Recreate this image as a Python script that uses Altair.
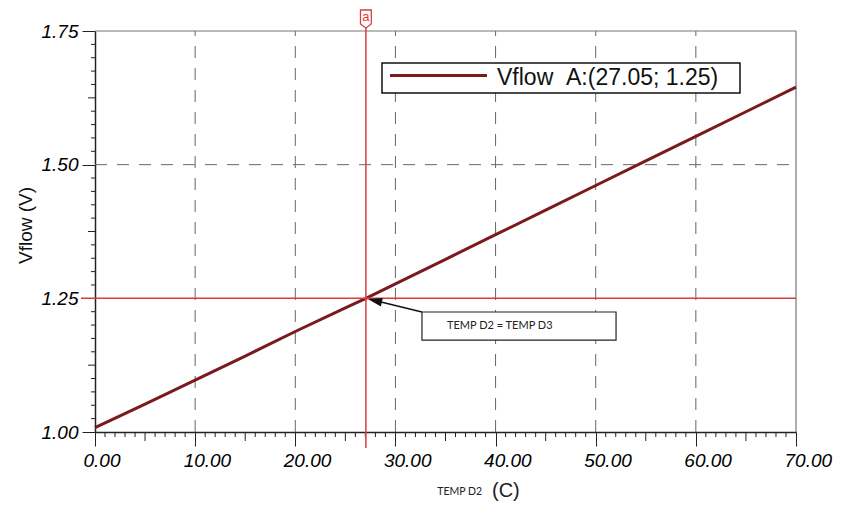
import altair as alt
import pandas as pd

# values
temp = [0, 5, 10, 15, 20, 25, 27.05, 30, 35, 40, 45, 50, 55, 60, 65, 70]
vflow = [1.008, 1.052, 1.097, 1.142, 1.188, 1.232, 1.25, 1.277, 1.323,
         1.369, 1.415, 1.461, 1.507, 1.553, 1.599, 1.645]

x_ticks = [0, 10, 20, 30, 40, 50, 60, 70]
y_ticks = [1.00, 1.25, 1.50, 1.75]
x_grid = [10, 20, 30, 40, 50, 60]
y_grid = [1.50]
x_mid = [5, 15, 25, 35, 45, 55, 65]
x_minor = [v for v in range(0, 71) if v % 5 != 0]
y_mid = [1.125, 1.375, 1.625]
y_minor = [round(1.0 + 0.025 * i, 3) for i in range(31) if i % 5 != 0]

cursor_x = 27.05
cursor_y = 1.25
series_label = "Vflow\u00a0\u00a0A:(27.05; 1.25)"
note_text = "TEMP D2 = TEMP D3"

# annotation box / arrow anchors (data coords)
note_x0, note_x1 = 32.65, 52.03
note_y0, note_y1 = 1.172, 1.2244
note_tx, note_ty = 35.15, 1.198
arrow_x, arrow_y = 27.94, 1.2458

LINE = "#7b1a1e"
RED = "#dc3c40"
GRID = "#666666"
AXIS = "#222222"
W, H = 701, 401

xs = alt.Scale(domain=[0, 70], nice=False, zero=False)
ys = alt.Scale(domain=[1.0, 1.75], nice=False, zero=False)

x_axis = alt.Axis(
    values=x_ticks, format=".2f", title=None, grid=False,
    tickSize=14, labelPadding=5, labelAlign="left", labelOffset=-12,
)
y_axis = alt.Axis(
    values=y_ticks, format=".2f", title="Vflow (V)", grid=False,
    tickSize=13, labelPadding=4,
    titleX=-70, titleY=194, titleAngle=270, titleAlign="center",
    titleBaseline="middle",
)


def X(field="t"):
    return alt.X(f"{field}:Q", scale=xs, axis=x_axis)


def Y(field="v"):
    return alt.Y(f"{field}:Q", scale=ys, axis=y_axis)


vgrid = alt.Chart(pd.DataFrame({"t": x_grid})).mark_rule(
    color=GRID, strokeDash=[12, 10], strokeWidth=1
).encode(x=X(), y=alt.value(H), y2=alt.value(0))

hgrid = alt.Chart(pd.DataFrame({"v": y_grid})).mark_rule(
    color=GRID, strokeDash=[12, 10], strokeWidth=1
).encode(y=Y(), x=alt.value(0), x2=alt.value(W))

top_border = alt.Chart(pd.DataFrame({"v": [1.75]})).mark_rule(
    color="#777777", strokeWidth=1.2
).encode(y=Y(), x=alt.value(0), x2=alt.value(W))

right_border = alt.Chart(pd.DataFrame({"t": [70]})).mark_rule(
    color="#777777", strokeWidth=1.2
).encode(x=X(), y=alt.value(0), y2=alt.value(H))

x_mid_ticks = alt.Chart(pd.DataFrame({"t": x_mid})).mark_rule(
    color=AXIS, strokeWidth=1
).encode(x=X(), y=alt.value(H), y2=alt.value(H + 9))

x_minor_ticks = alt.Chart(pd.DataFrame({"t": x_minor})).mark_rule(
    color=AXIS, strokeWidth=1
).encode(x=X(), y=alt.value(H), y2=alt.value(H + 5))

y_mid_ticks = alt.Chart(pd.DataFrame({"v": y_mid})).mark_rule(
    color=AXIS, strokeWidth=1
).encode(y=Y(), x=alt.value(-7), x2=alt.value(0))

y_minor_ticks = alt.Chart(pd.DataFrame({"v": y_minor})).mark_rule(
    color=AXIS, strokeWidth=1
).encode(y=Y(), x=alt.value(-4), x2=alt.value(0))

line = alt.Chart(pd.DataFrame({"t": temp, "v": vflow})).mark_line(
    strokeWidth=3, color=LINE
).encode(x=X(), y=Y())

cursor_v = alt.Chart(pd.DataFrame({"t": [cursor_x]})).mark_rule(
    color=RED, strokeWidth=1.5
).encode(x=X(), y=alt.value(-3), y2=alt.value(H + 16))

cursor_h = alt.Chart(pd.DataFrame({"v": [cursor_y]})).mark_rule(
    color=RED, strokeWidth=1.5
).encode(y=Y(), x=alt.value(-14), x2=alt.value(W))

flag = alt.Chart(pd.DataFrame({"t": [cursor_x]})).mark_point(
    shape="M -0.6 -1 L 0.6 -1 L 0.6 0.55 L 0 1 L -0.6 0.55 Z",
    size=324, filled=True, fill="white", stroke=RED, strokeWidth=1.3, opacity=1,
).encode(x=X(), y=alt.value(-12))

flag_text = alt.Chart(pd.DataFrame({"t": [cursor_x], "lab": ["a"]})).mark_text(
    color=RED, fontSize=13, font="Liberation Sans", baseline="middle"
).encode(x=X(), y=alt.value(-14), text="lab:N")

# legend box drawn by hand, as in the simulator's plot
legend_box = alt.Chart(pd.DataFrame({"lab": [series_label]})).mark_rect(
    fill="white", stroke="#111111", strokeWidth=1.5
).encode(x=alt.value(287), x2=alt.value(645), y=alt.value(32), y2=alt.value(62))

legend_swatch = alt.Chart(pd.DataFrame({"lab": [series_label]})).mark_rule(
    color=LINE, strokeWidth=3
).encode(x=alt.value(295), x2=alt.value(392), y=alt.value(44.5))

legend_label = alt.Chart(pd.DataFrame({"lab": [series_label]})).mark_text(
    align="left", baseline="middle", font="Liberation Sans", fontSize=23,
    color="#111111"
).encode(x=alt.value(402), y=alt.value(47), text="lab:N")

arrow = alt.Chart(pd.DataFrame({
    "t": [note_x0], "v": [note_y1], "t2": [arrow_x], "v2": [arrow_y]
})).mark_rule(color="#111111", strokeWidth=1.5).encode(
    x=X(), y=Y(), x2="t2:Q", y2="v2:Q"
)

arrow_head = alt.Chart(pd.DataFrame({"t": [arrow_x], "v": [arrow_y]})).mark_point(
    shape="M -1 0 L 1 -0.6 L 1 0.6 Z", size=210, angle=13,
    filled=True, color="#111111", opacity=1,
).encode(x=X(), y=Y())

note_box = alt.Chart(pd.DataFrame({
    "t": [note_x0], "t2": [note_x1], "v": [note_y0], "v2": [note_y1]
})).mark_rect(fill="white", stroke="#222222", strokeWidth=1.2).encode(
    x=X(), x2="t2:Q", y=Y(), y2="v2:Q"
)

note_label = alt.Chart(pd.DataFrame({
    "t": [note_tx], "v": [note_ty], "lab": [note_text]
})).mark_text(
    align="left", baseline="middle", font="Lato", fontSize=11, color="#222222"
).encode(x=X(), y=Y(), text="lab:N")

xtitle_small = alt.Chart(pd.DataFrame({"lab": ["TEMP D2"]})).mark_text(
    align="right", baseline="alphabetic", font="Lato", fontSize=10.5, color="#222222"
).encode(x=alt.value(387), y=alt.value(464), text="lab:N")

xtitle_big = alt.Chart(pd.DataFrame({"lab": ["(C)"]})).mark_text(
    align="left", baseline="alphabetic", font="Liberation Sans", fontSize=20,
    color="#222222"
).encode(x=alt.value(397), y=alt.value(466), text="lab:N")

chart = alt.layer(
    vgrid, hgrid, top_border, right_border,
    x_mid_ticks, x_minor_ticks, y_mid_ticks, y_minor_ticks,
    line, cursor_v, cursor_h, flag, flag_text,
    legend_box, legend_swatch, legend_label,
    arrow, note_box, arrow_head, note_label,
    xtitle_small, xtitle_big,
).properties(
    width=W, height=H,
    autosize=alt.AutoSizeParams(type="none"),
    padding={"left": 87, "top": 23, "right": 46, "bottom": 71},
).configure_view(
    stroke=None
).configure_axis(
    domainColor=AXIS, domainWidth=1.5, tickColor=AXIS, tickWidth=1,
    labelFont="Liberation Sans", labelFontSize=19, labelFontStyle="italic",
    labelColor="#000000", titleFont="Liberation Sans", titleFontSize=19,
    titleFontWeight="normal", titleColor="#111111",
)

chart.save("out.html", embed_options={"renderer": "svg", "actions": False})
